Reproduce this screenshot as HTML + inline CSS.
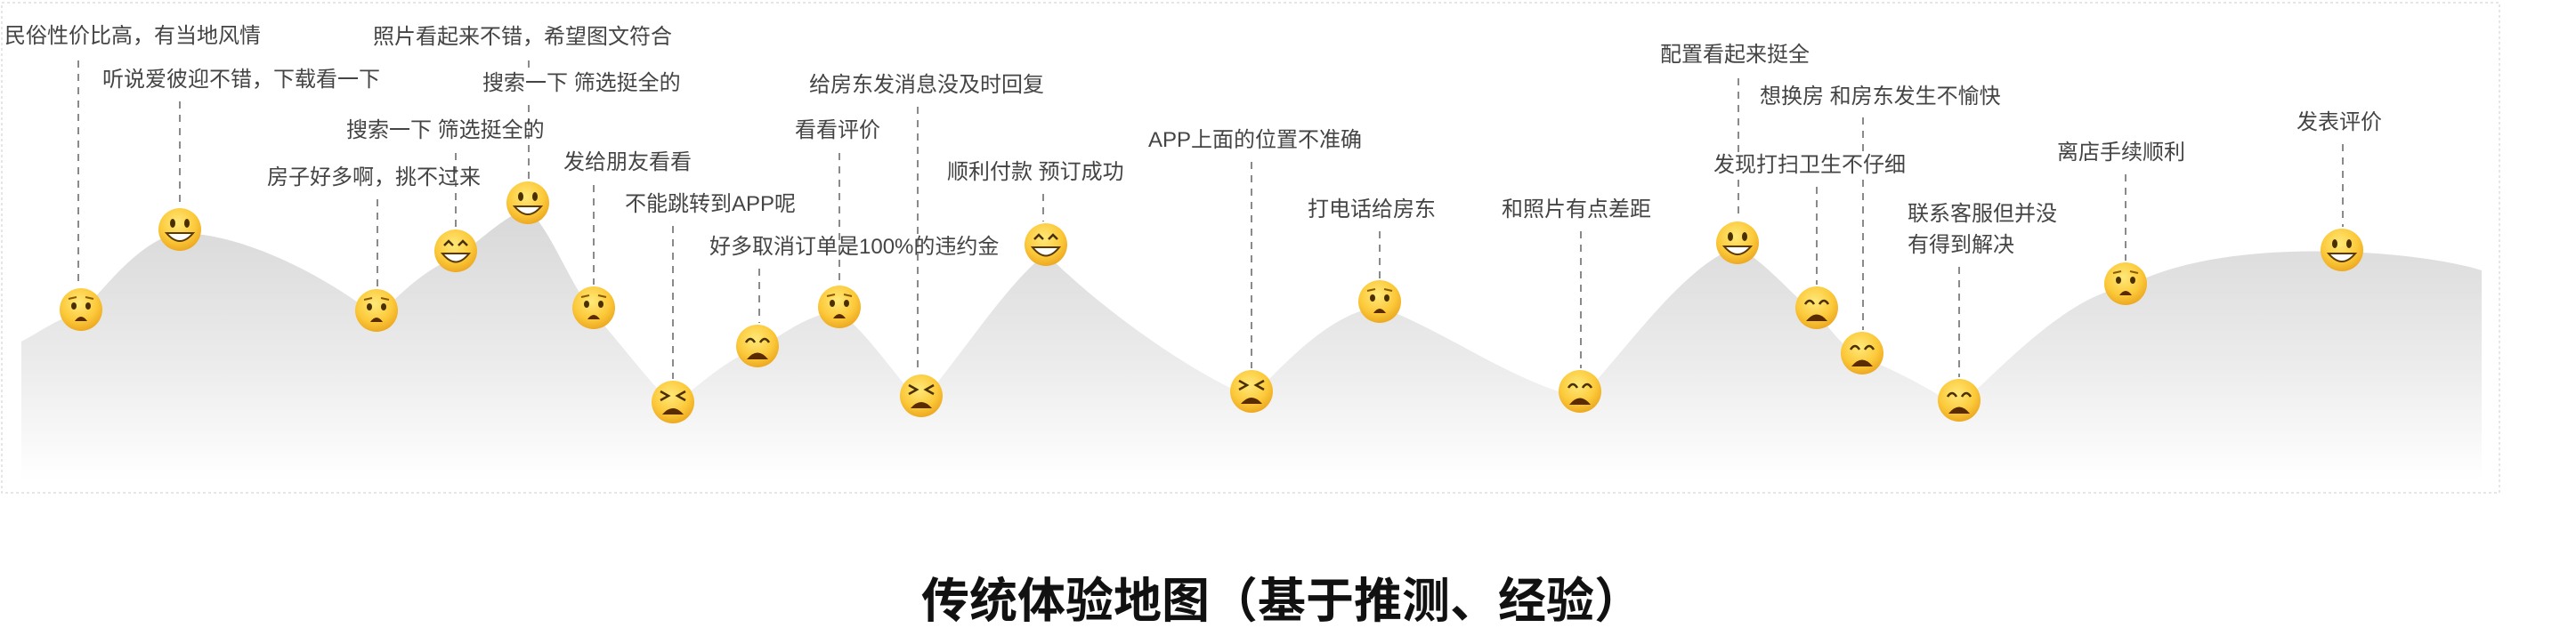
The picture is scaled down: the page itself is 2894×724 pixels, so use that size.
<!DOCTYPE html>
<html><head><meta charset="utf-8"><style>
html,body{margin:0;padding:0;background:#fff;}
svg{display:block}
text{font-family:"Liberation Sans","Noto Sans CJK SC",sans-serif;}
</style></head><body>
<svg width="2894" height="724" viewBox="0 0 2894 724" xmlns="http://www.w3.org/2000/svg">
<defs>
<linearGradient id="m" x1="0" y1="220" x2="0" y2="540" gradientUnits="userSpaceOnUse">
<stop offset="0" stop-color="#d6d6d6"/><stop offset="0.6" stop-color="#ececec"/><stop offset="1" stop-color="#ffffff"/>
</linearGradient>
<radialGradient id="f" cx="0.45" cy="0.35" r="0.7">
<stop offset="0" stop-color="#ffe97a"/><stop offset="0.6" stop-color="#fcc93a"/><stop offset="1" stop-color="#e9a21c"/>
</radialGradient>
<g id="grin"><circle r="24" fill="url(#f)"/><ellipse cx="-8" cy="-7" rx="3" ry="5" fill="#4a3000"/><ellipse cx="8" cy="-7" rx="3" ry="5" fill="#4a3000"/><path d="M-15 4 Q0 22 15 4 Z" fill="#fff" stroke="#5a3a00" stroke-width="2"/></g>
<g id="sq"><circle r="24" fill="url(#f)"/><path d="M-13 -6 L-8 -11 L-3 -6 M3 -6 L8 -11 L13 -6" stroke="#4a3000" stroke-width="2.5" fill="none"/><path d="M-15 3 Q0 22 15 3 Z" fill="#fff" stroke="#5a3a00" stroke-width="2"/></g>
<g id="sad"><circle r="24" fill="url(#f)"/><ellipse cx="-8" cy="-4" rx="3" ry="4" fill="#4a3000"/><ellipse cx="8" cy="-4" rx="3" ry="4" fill="#4a3000"/><path d="M-14 -12 L-5 -14 M5 -14 L14 -12" stroke="#8a5a00" stroke-width="2"/><path d="M-7 13 Q0 3 7 13 Z" fill="#5a2a00"/></g>
<g id="xx"><circle r="24" fill="url(#f)"/><path d="M-14 -12 L-5 -7 L-14 -2 M14 -12 L5 -7 L14 -2" stroke="#4a3000" stroke-width="2.5" fill="none"/><path d="M-12 14 Q0 0 12 14 Z" fill="#5a2a00"/></g>
<g id="wy"><circle r="24" fill="url(#f)"/><path d="M-13 -4 Q-8 -12 -3 -4 M3 -4 Q8 -12 13 -4" stroke="#4a3000" stroke-width="2.5" fill="none"/><path d="M-12 15 Q0 0 12 15 Z" fill="#5a2a00"/></g>
</defs>
<rect x="2" y="3" width="2806" height="551" fill="none" stroke="#ddd" stroke-width="1.5" stroke-dasharray="3 3"/>
<path d="M24 384 C50 370 70 355 91 352 C120 320 160 268 202 262 C280 262 380 320 423 356 C450 330 480 300 512 290 C540 270 570 240 593 235 C620 260 640 320 667 352 C700 390 730 430 756 455 C790 430 820 400 851 393 C880 375 910 352 943 350 C980 380 1010 430 1035 452 C1080 400 1130 320 1175 285 C1240 350 1340 420 1406 447 C1450 400 1500 350 1550 345 C1620 370 1700 430 1776 447 C1830 390 1890 300 1952 277 C1990 300 2015 335 2041 352 C2060 375 2075 395 2092 402 C2140 420 2170 440 2201 457 C2260 400 2330 330 2388 323 C2450 290 2540 280 2631 283 C2700 285 2760 295 2788 304 L2788 540 L24 540 Z" fill="url(#m)"/>
<g stroke="#8a8a8a" stroke-width="2" stroke-dasharray="8 7" fill="none">
<line x1="88" y1="68" x2="88" y2="322"/>
<line x1="202" y1="114" x2="202" y2="232"/>
<line x1="594" y1="68" x2="594" y2="82"/><line x1="594" y1="118" x2="594" y2="202"/>
<line x1="512" y1="172" x2="512" y2="256"/>
<line x1="424" y1="224" x2="424" y2="322"/>
<line x1="667" y1="208" x2="667" y2="320"/>
<line x1="756" y1="254" x2="756" y2="426"/>
<line x1="853" y1="302" x2="853" y2="363"/>
<line x1="943" y1="172" x2="943" y2="318"/>
<line x1="1031" y1="120" x2="1031" y2="418"/>
<line x1="1172" y1="218" x2="1172" y2="249"/>
<line x1="1406" y1="182" x2="1406" y2="414"/>
<line x1="1550" y1="260" x2="1550" y2="313"/>
<line x1="1776" y1="260" x2="1776" y2="414"/>
<line x1="1953" y1="88" x2="1953" y2="172"/><line x1="1953" y1="202" x2="1953" y2="247"/>
<line x1="2041" y1="210" x2="2041" y2="320"/>
<line x1="2093" y1="132" x2="2093" y2="174"/><line x1="2093" y1="202" x2="2093" y2="371"/>
<line x1="2201" y1="300" x2="2201" y2="424"/>
<line x1="2388" y1="196" x2="2388" y2="293"/>
<line x1="2632" y1="162" x2="2632" y2="255"/>
</g>
<g font-size="24" fill="#444">
<text x="5" y="48">民俗性价比高，有当地风情</text>
<text x="115" y="97">听说爱彼迎不错，下载看一下</text>
<text x="419" y="49">照片看起来不错，希望图文符合</text>
<text x="542" y="101">搜索一下 筛选挺全的</text>
<text x="389" y="154">搜索一下 筛选挺全的</text>
<text x="300" y="207">房子好多啊，挑不过来</text>
<text x="633" y="190">发给朋友看看</text>
<text x="702" y="237">不能跳转到APP呢</text>
<text x="797" y="285">好多取消订单是100%的违约金</text>
<text x="893" y="154">看看评价</text>
<text x="909" y="103">给房东发消息没及时回复</text>
<text x="1064" y="201">顺利付款 预订成功</text>
<text x="1290" y="165">APP上面的位置不准确</text>
<text x="1469" y="243">打电话给房东</text>
<text x="1687" y="243">和照片有点差距</text>
<text x="1865" y="69">配置看起来挺全</text>
<text x="1925" y="193">发现打扫卫生不仔细</text>
<text x="1977" y="116">想换房 和房东发生不愉快</text>
<text x="2143" y="248">联系客服但并没</text>
<text x="2143" y="283">有得到解决</text>
<text x="2311" y="179">离店手续顺利</text>
<text x="2580" y="145">发表评价</text>
</g>
<use href="#sad" x="91" y="348"/>
<use href="#grin" x="202" y="258"/>
<use href="#grin" x="593" y="228"/>
<use href="#sq" x="512" y="282"/>
<use href="#sad" x="423" y="349"/>
<use href="#sad" x="667" y="346"/>
<use href="#xx" x="756" y="452"/>
<use href="#wy" x="851" y="389"/>
<use href="#sad" x="943" y="345"/>
<use href="#xx" x="1035" y="445"/>
<use href="#sq" x="1175" y="275"/>
<use href="#xx" x="1406" y="440"/>
<use href="#sad" x="1550" y="339"/>
<use href="#wy" x="1775" y="440"/>
<use href="#grin" x="1952" y="273"/>
<use href="#wy" x="2041" y="346"/>
<use href="#wy" x="2092" y="397"/>
<use href="#wy" x="2201" y="450"/>
<use href="#sad" x="2388" y="319"/>
<use href="#grin" x="2631" y="281"/>
<text x="1440" y="694" font-size="54" font-weight="bold" fill="#111" text-anchor="middle">传统体验地图（基于推测、经验）</text>
</svg>
</body></html>
